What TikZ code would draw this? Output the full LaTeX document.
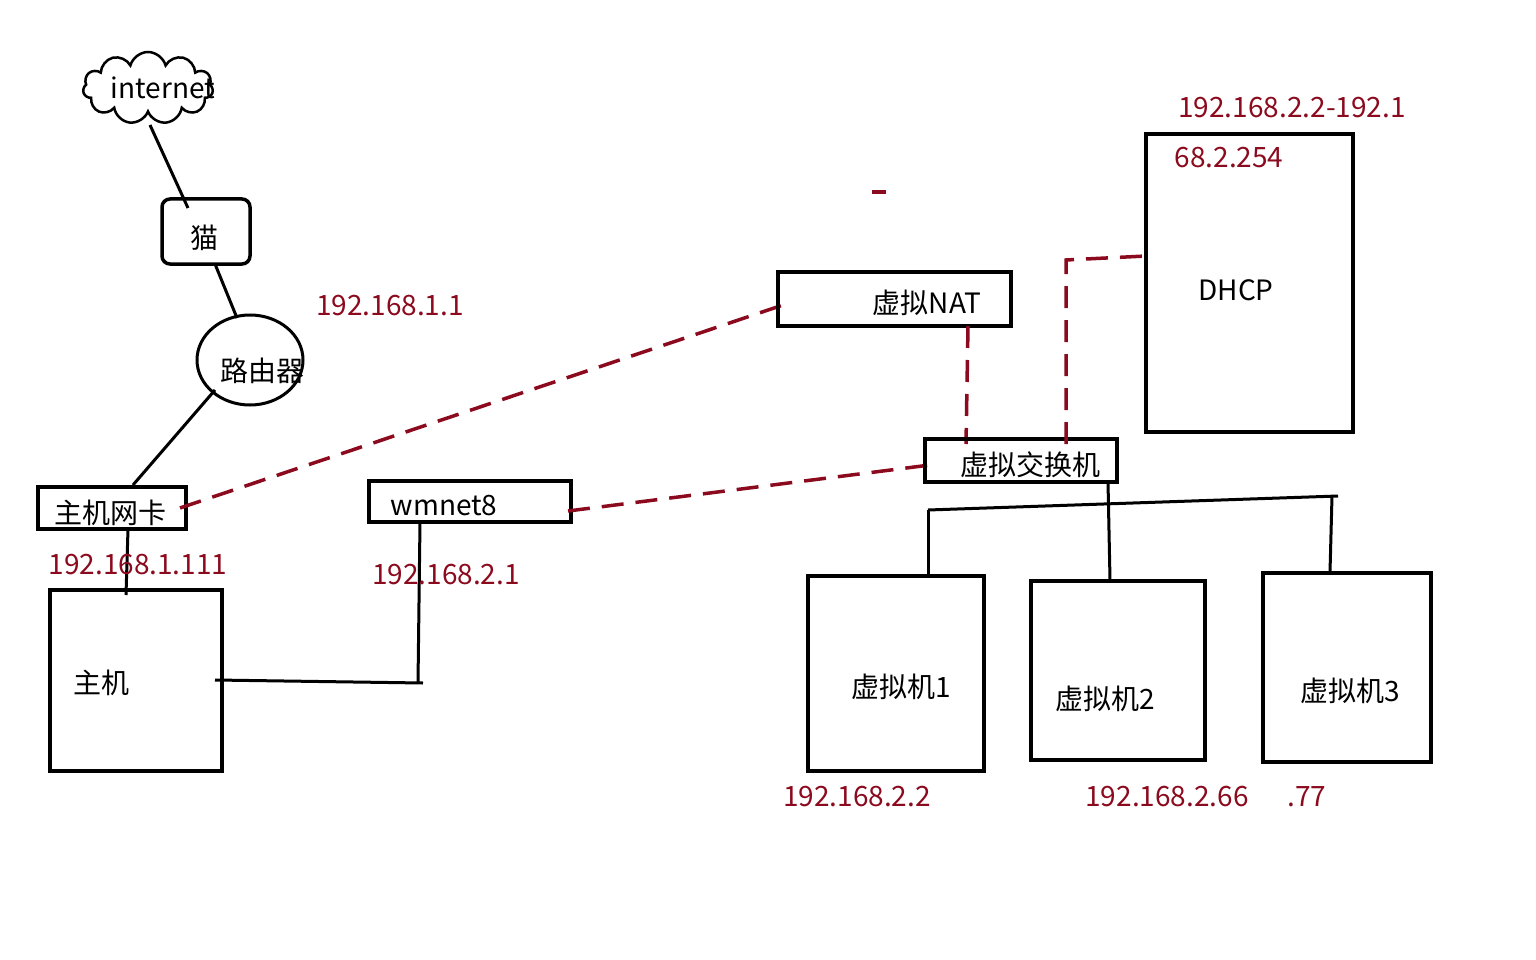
\documentclass[tikz,border=0pt]{standalone}
\usepackage{fontspec}
\setmainfont{Noto Sans CJK SC}
\usetikzlibrary{shapes.symbols,shapes.geometric}
\definecolor{dred}{HTML}{8B0A1E}
\begin{document}
\begin{tikzpicture}[x=1pt,y=-1pt,
  box/.style={draw,line width=3.5pt},
  ln/.style={line width=3pt},
  dl/.style={line width=3.5pt,dred,dash pattern=on 22pt off 12pt},
  lab/.style={font=\fontsize{28}{30}\selectfont},
  rl/.style={font=\fontsize{28}{30}\selectfont,text=dred}]
\useasboundingbox (0,0) rectangle (1536,960);
\node[cloud,draw,line width=2.5pt,cloud puffs=11,minimum width=130pt,minimum height=72pt] (cl) at (148,88) {};
\node[lab] (inet) at (163,88) {internet};
\draw[box,rounded corners=8pt] (162,199) rectangle (250,264);
\node[lab] (mao) at (204,238) {猫};
\draw[ln] (150,125) -- (188,208);
\draw[ln] (215,264) -- (237,318);
\draw[line width=3pt] (250,360) ellipse (53 and 45);
\node[lab] (rt) at (262,371) {路由器};
\draw[ln] (215,390) -- (133,485);
\draw[box] (38,487) rectangle (186,529);
\node[lab] (nic) at (110,513) {主机网卡};
\draw[ln] (128,529) -- (126,595);
\draw[box] (50,590) rectangle (222,771);
\node[lab] (host) at (101,683) {主机};
\draw[ln] (215,680) -- (423,683);
\draw[ln] (418,683) -- (420,522);
\draw[box] (369,481) rectangle (571,522);
\node[lab] (wm) at (444,506) {wmnet8};
\node[rl] at (390,306) {192.168.1.1};
\node[rl] at (138,565) {192.168.1.111};
\node[rl] at (446,575) {192.168.2.1};
\draw[dl] (180,508) -- (783,305);
\draw[dl] (568,511) -- (930,465);
\draw[box] (778,272) rectangle (1011,326);
\node[lab] (nat) at (927,303) {虚拟NAT};
\draw[dl] (968,326) -- (966,444);
\draw[box] (925,439) rectangle (1117,482);
\node[lab] (sw) at (1030,465) {虚拟交换机};
\draw[dl] (1066,444) -- (1066,260) -- (1146,256);
\draw[box] (1146,134) rectangle (1353,432);
\node[lab] (dhcp) at (1236,290) {DHCP};
\node[rl] at (1292,108) {192.168.2.2-192.1};
\node[rl] at (1229,158) {68.2.254};
\draw[line width=3.5pt,dred] (872,192) -- (886,192);
\draw[ln] (1108,482) -- (1110,580);
\draw[ln] (928,510) -- (1338,496);
\draw[ln] (928,510) -- (928,576);
\draw[ln] (1332,496) -- (1330,572);
\draw[box] (808,576) rectangle (984,771);
\node[lab] (v1) at (901,687) {虚拟机1};
\draw[box] (1031,581) rectangle (1205,760);
\node[lab] (v2) at (1105,699) {虚拟机2};
\draw[box] (1263,573) rectangle (1431,762);
\node[lab] (v3) at (1350,691) {虚拟机3};
\node[rl] at (857,797) {192.168.2.2};
\node[rl] at (1167,797) {192.168.2.66};
\node[rl] at (1307,797) {.77};
\end{tikzpicture}
\end{document}
